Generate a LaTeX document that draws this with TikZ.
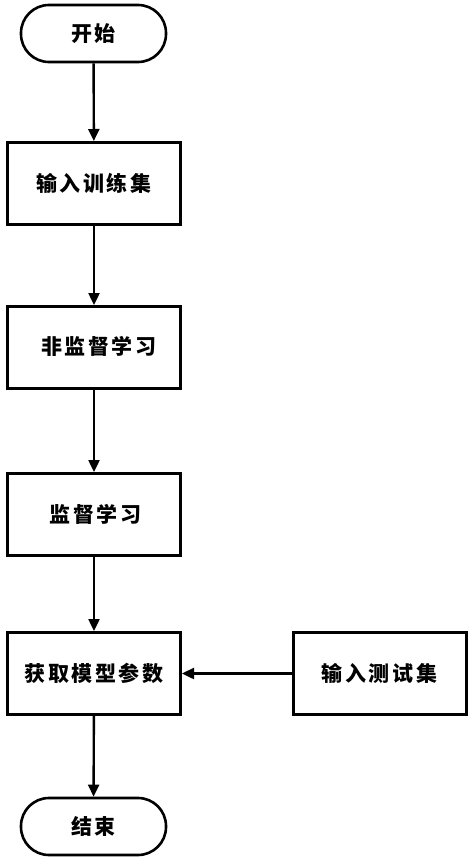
\documentclass[tikz,border=0pt]{standalone}
\usepackage{fontspec}
\newfontfamily\cjk[LetterSpace=12]{Noto Sans CJK SC}
\usetikzlibrary{arrows.meta}
\begin{document}
\begin{tikzpicture}[x=1pt,y=-1pt,
  txt/.style={font=\cjk\bfseries\fontsize{21}{24}\selectfont},
  term/.style={draw,line width=2.6pt,rounded corners=28pt,minimum width=145pt,minimum height=57pt,inner sep=0pt,txt},
  proc/.style={draw,line width=3pt,minimum width=173pt,minimum height=82pt,inner sep=0pt,txt},
  flow/.style={line width=2.4pt,-{Triangle[width=11pt,length=12pt]}}]
\useasboundingbox[fill=white] (0,0) rectangle (474,862);
\node[term] (start) at (93.5,33.5) {开始};
\node[proc] (b1) at (94,183.5) {输入训练集};
\node[proc] (b2) at (94,347.5) {\raisebox{5pt}{\hspace*{10pt}非监督学习}};
\node[proc] (b3) at (94,514.5) {\hspace*{3pt}监督学习};
\node[proc] (b4) at (94,673.5) {获取模型参数};
\node[proc] (b5) at (379.5,673.5) {输入测试集};
\node[term] (end) at (93.5,826.5) {结束};
\draw[flow] (start) -- (b1);
\draw[flow] (b1) -- (b2);
\draw[flow] (b2) -- (b3);
\draw[flow] (b3) -- (b4);
\draw[flow] (b4) -- (end);
\draw[flow] (b5) -- (b4);
\end{tikzpicture}
\end{document}
